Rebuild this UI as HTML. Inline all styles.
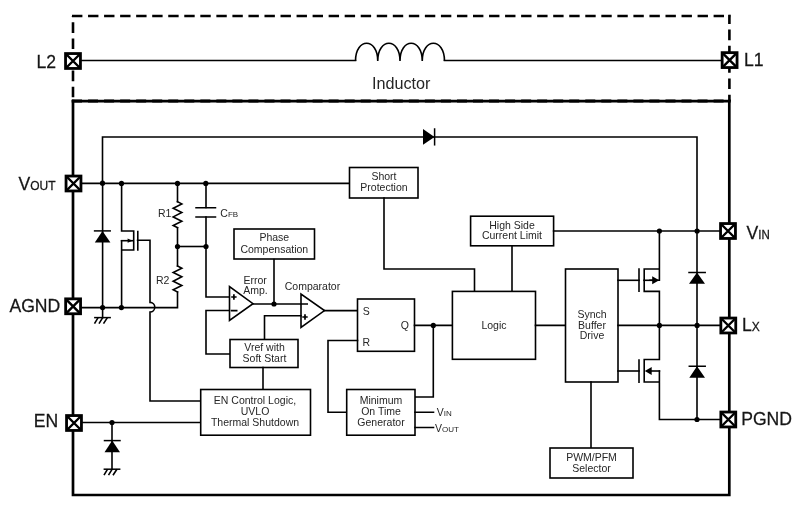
<!DOCTYPE html>
<html><head><meta charset="utf-8">
<style>
html,body{margin:0;padding:0;background:#fff;}
body{width:800px;height:509px;overflow:hidden;}
svg{display:block;}
text{font-family:"Liberation Sans",sans-serif;fill:#262626;}
.w{stroke:#000;stroke-width:1.6;fill:none;stroke-linecap:square;stroke-linejoin:miter;}
.b{stroke:#000;stroke-width:1.6;fill:#fff;}
.t{stroke:#000;stroke-width:2.8;fill:none;stroke-linecap:square;}
.d{stroke:#000;stroke-width:2.6;fill:none;stroke-dasharray:10.5 6.2;}
.k{fill:#000;stroke:none;}
.pin{font-size:17.6px;fill:#161616;stroke:#161616;stroke-width:0.25;}
.s{font-size:10.5px;text-anchor:middle;}
.sl{font-size:10.5px;}
</style></head><body>
<svg style="will-change:transform" width="800" height="509" viewBox="0 0 800 509">
<defs>
<g id="pad"><rect x="-7.45" y="-7.45" width="14.9" height="14.9" fill="#fff" stroke="#000" stroke-width="2.8"/><path d="M-6.5-6.5L6.5 6.5M6.5-6.5L-6.5 6.5" stroke="#000" stroke-width="2.4" fill="none"/></g>
<g id="gnd"><path d="M-8.6 0H8.2" stroke="#000" stroke-width="1.5" fill="none"/><path d="M-4.6 0L-8.2 6M0 0L-3.7 6M4.7 0L0.8 6" stroke="#000" stroke-width="1.6" fill="none"/></g>
</defs>
<rect width="800" height="509" fill="#fff"/>

<!-- outer frames -->
<path class="d" d="M73 97.3V16" style="stroke-dasharray:10.6 5.5"/>
<path class="d" d="M72 16H730.3" style="stroke-dasharray:10.4 5.64"/>
<path class="d" d="M729.4 14.7V101" style="stroke-dasharray:9.2 5.6 10.7 5.6 10.7 5.6 10.7 5.6 10.7 5.6 10.7 5.6"/>
<path class="t" d="M73 101.1V495H729.3V101.1" style="stroke-width:2.7"/>
<path class="t" d="M73 101.1H729.3" style="stroke-width:2.7"/>
<path class="d" d="M72 101H730.3" style="stroke-width:3.1;stroke-dasharray:10 6.04"/>

<!-- inductor line -->
<path class="w" d="M81 60.5H355.5 M444.5 60.5H721"/>
<path class="w" style="stroke-linecap:butt" d="M355.5 61 C355.5 37.4,377.75 37.4,377.75 61 C377.75 37.4,400 37.4,400 61 C400 37.4,422.25 37.4,422.25 61 C422.25 37.4,444.5 37.4,444.5 61"/>
<text x="372" y="88.8" style="font-size:16.2px">Inductor</text>

<!-- top inner wire with diode -->
<path class="w" d="M102.5 183V137H697V231"/>
<path class="k" d="M423 129L434.5 136.9L423 144.8Z"/>
<path class="w" d="M434.6 129V144.8" style="stroke-width:1.5"/>

<!-- VOUT rail -->
<path class="w" d="M82 183.4H349.5"/>
<!-- left diode column x=102 -->
<path class="w" d="M102.6 183V317.6"/>
<path class="w" d="M94.6 230.9H110.2" style="stroke-width:1.5"/>
<path class="k" d="M102.5 231L110.4 242.6H94.8Z"/>
<use href="#gnd" x="102.7" y="317.6"/>
<!-- left mosfet -->
<path class="w" d="M121.6 183V231H133.7V250H121.6 M121.6 240.7V307.6"/>
<path class="w" d="M121.6 240.7H133"/>
<path class="k" d="M127.6 238.6L132.6 240.7L127.6 242.8Z"/>
<path class="w" d="M137.8 231.5V250"/>
<path class="w" d="M137.6 240.3H150V302.4A4.8 4.8 0 0 1 150 312V401H200.5"/>
<!-- AGND rail -->
<path class="w" d="M82 307.6H177.5V292"/>
<!-- R1/R2 column -->
<path class="w" d="M177.5 183V201.7 M177.5 227.7V266"/>
<path class="w" style="stroke-linejoin:miter" d="M177.5 201.7L181.8 203.9L173.2 208.2L181.8 212.5L173.2 216.9L181.8 221.2L173.2 225.5L177.5 227.7"/>
<path class="w" style="stroke-linejoin:miter" d="M177.5 266L181.8 268.2L173.2 272.5L181.8 276.8L173.2 281.2L181.8 285.5L173.2 289.8L177.5 292"/>
<path class="w" d="M177.5 246.5H206"/>
<!-- cap column -->
<path class="w" d="M206 183V207.5 M206 217V297H229.5"/>
<path class="w" d="M196 207.7H215.5 M196 217H215.5" style="stroke-width:1.5"/>
<!-- dots -->
<g class="k">
<circle cx="102.5" cy="183.2" r="2.6"/><circle cx="121.5" cy="183.4" r="2.6"/><circle cx="177.5" cy="183.4" r="2.6"/><circle cx="205.8" cy="183.4" r="2.6"/>
<circle cx="177.5" cy="246.5" r="2.6"/><circle cx="206" cy="246.5" r="2.6"/>
<circle cx="102.6" cy="307.6" r="2.6"/><circle cx="121.4" cy="307.6" r="2.6"/>
<circle cx="112" cy="422.5" r="2.6"/>
<circle cx="274" cy="304" r="2.6"/>
<circle cx="433.3" cy="325.4" r="2.6"/>
<circle cx="659.4" cy="231" r="2.6"/><circle cx="697.1" cy="231" r="2.6"/>
<circle cx="659.4" cy="325.4" r="2.6"/><circle cx="697.1" cy="325.4" r="2.6"/>
<circle cx="697" cy="419.5" r="2.6"/>
</g>
<text x="158" y="217.3" class="sl">R1</text>
<text x="156" y="284.3" class="sl">R2</text>
<text x="220.3" y="216.7" class="sl">C<tspan style="font-size:8px">FB</tspan></text>

<!-- EN rail -->
<path class="w" d="M82 422.5H200.5"/>
<path class="w" d="M112 422.5V469"/>
<path class="w" d="M104.5 440.6H120" style="stroke-width:1.5"/>
<path class="k" d="M112.2 440.6L120 452.3H104.5Z"/>
<use href="#gnd" x="112.2" y="469.2"/>

<!-- Phase compensation -->
<rect class="b" x="234" y="229" width="80.5" height="30"/>
<text class="s" x="274.3" y="241.3">Phase</text>
<text class="s" x="274.3" y="252.8">Compensation</text>
<path class="w" d="M274 259.5V304"/>

<!-- Error amp -->
<path class="w" d="M229.5 286.5V320.5L253 303.7Z" style="fill:#fff;stroke-linejoin:miter"/>
<path class="w" d="M231.2 297H236.6M233.9 294.3V299.7 M231 310.7H237.5" style="stroke-width:1.7;stroke-linecap:butt"/>
<path class="w" d="M253 304H301"/>
<path class="w" d="M229.5 310.5H206V354H230"/>
<text class="s" x="255.2" y="284.3">Error</text>
<text class="s" x="255.5" y="293.6">Amp.</text>

<!-- Comparator -->
<path class="w" d="M301 294V327.5L324.5 310.6Z" style="fill:#fff"/>
<path class="w" d="M301 304H308 M302.3 317H307.7M305 314.3V319.7" style="stroke-width:1.7;stroke-linecap:butt"/>
<path class="w" d="M301 315.7H264.5V339.5"/>
<path class="w" d="M324.5 310.6H357.5"/>
<text class="s" x="312.5" y="290">Comparator</text>

<!-- Vref -->
<rect class="b" x="230" y="339.5" width="68" height="28"/>
<text class="s" x="264.5" y="351.3">Vref with</text>
<text class="s" x="264.5" y="362.3">Soft Start</text>
<path class="w" d="M263 367.5V389.5"/>

<!-- EN control -->
<rect class="b" x="200.7" y="389.5" width="109.8" height="45.7"/>
<text class="s" x="255" y="404">EN Control Logic,</text>
<text class="s" x="255" y="415">UVLO</text>
<text class="s" x="255" y="426">Thermal Shutdown</text>

<!-- SR -->
<rect class="b" x="357.5" y="299" width="57" height="52.3"/>
<text class="sl" x="362.8" y="315">S</text>
<text class="sl" x="362.6" y="346">R</text>
<text class="sl" x="400.8" y="329">Q</text>
<path class="w" d="M357.5 340.5H328V412.2H346.5"/>
<path class="w" d="M414.5 325.4H452.5"/>
<path class="w" d="M433.3 325.4V397H415"/>

<!-- Min on time -->
<rect class="b" x="346.7" y="389.5" width="68.3" height="45.7"/>
<text class="s" x="381" y="404">Minimum</text>
<text class="s" x="381" y="414.7">On Time</text>
<text class="s" x="381" y="426">Generator</text>
<path class="w" d="M415 412.2H433.5 M415 427.5H433.5"/>
<text class="sl" x="436.8" y="416.3">V<tspan style="font-size:8px">IN</tspan></text>
<text class="sl" x="435" y="432.1">V<tspan style="font-size:8px">OUT</tspan></text>

<!-- Short protection -->
<rect class="b" x="349.5" y="167.5" width="68.5" height="30.5"/>
<text class="s" x="384" y="180.3">Short</text>
<text class="s" x="384" y="191.4">Protection</text>
<path class="w" d="M384 198V269H474.5V291"/>

<!-- High side current limit -->
<rect class="b" x="470.6" y="216.2" width="83" height="29.6"/>
<text class="s" x="512" y="228.8">High Side</text>
<text class="s" x="512" y="239.2">Current Limit</text>
<path class="w" d="M512 246V291"/>
<path class="w" d="M553.6 231H720"/>

<!-- Logic -->
<rect class="b" x="452.4" y="291.4" width="83.1" height="67.9"/>
<text class="s" x="494" y="329.4">Logic</text>
<path class="w" d="M535.5 325.4H565.5"/>

<!-- Synch -->
<rect class="b" x="565.5" y="269" width="52.5" height="113"/>
<text class="s" x="592" y="318.3">Synch</text>
<text class="s" x="592" y="328.7">Buffer</text>
<text class="s" x="592" y="339.2">Drive</text>
<path class="w" d="M618 325.4H720"/>
<path class="w" d="M591 382V448"/>

<!-- PWM/PFM -->
<rect class="b" x="550" y="448" width="83" height="30"/>
<text class="s" x="591.5" y="460.6">PWM/PFM</text>
<text class="s" x="591.5" y="471.6">Selector</text>

<!-- upper mosfet -->
<path class="w" d="M618 280.3H639"/>
<path class="w" d="M639 269V291.3"/>
<path class="w" d="M659.4 231V280.3H650 M659.4 269H644.2V291.4H659.4V325.4"/>
<path class="k" d="M652.2 276.3L659.2 280.3L652.2 284.3Z"/>
<path class="w" d="M644 280.3H653"/>
<!-- lower mosfet -->
<path class="w" d="M618 371H639"/>
<path class="w" d="M639 360V382.2"/>
<path class="w" d="M659.4 325.4V359.5H644.2V382H659.4 M659.4 371V419.5H720"/>
<path class="w" d="M659.4 371H650"/>
<path class="k" d="M651.7 367L644.8 371L651.7 375Z"/>
<!-- right diodes -->
<path class="w" d="M697 231V419.5"/>
<path class="w" d="M689 272.4H705.2 M689.3 366.3H705.2" style="stroke-width:1.5"/>
<path class="k" d="M697 272.4L705 283.8H689Z M697 366.3L705 377.7H689.3Z"/>

<!-- pads -->
<use href="#pad" x="73" y="61"/>
<use href="#pad" x="729.6" y="60.1"/>
<use href="#pad" x="73.5" y="183.5"/>
<use href="#pad" x="73.1" y="306.3"/>
<use href="#pad" x="74" y="423"/>
<use href="#pad" x="728" y="231"/>
<use href="#pad" x="728.3" y="325.5"/>
<use href="#pad" x="728.3" y="419.5"/>

<!-- pin labels -->
<text class="pin" transform="translate(36.5,67.5) scale(1,1.07)">L2</text>
<text class="pin" transform="translate(744,65.6) scale(1,1.07)">L1</text>
<text class="pin" transform="translate(18.5,189.8) scale(1,1.07)">V<tspan style="font-size:12px">OUT</tspan></text>
<text class="pin" transform="translate(9.4,312.3) scale(1,1.07)">AGND</text>
<text class="pin" transform="translate(33.7,426.9) scale(1,1.07)">EN</text>
<text class="pin" transform="translate(746.6,238.6) scale(1,1.07)">V<tspan style="font-size:11.5px">IN</tspan></text>
<text class="pin" transform="translate(742,330.7) scale(1,1.07)">L<tspan style="font-size:12px">X</tspan></text>
<text class="pin" transform="translate(741.2,424.8) scale(1,1.07)">PGND</text>
</svg>
</body></html>
